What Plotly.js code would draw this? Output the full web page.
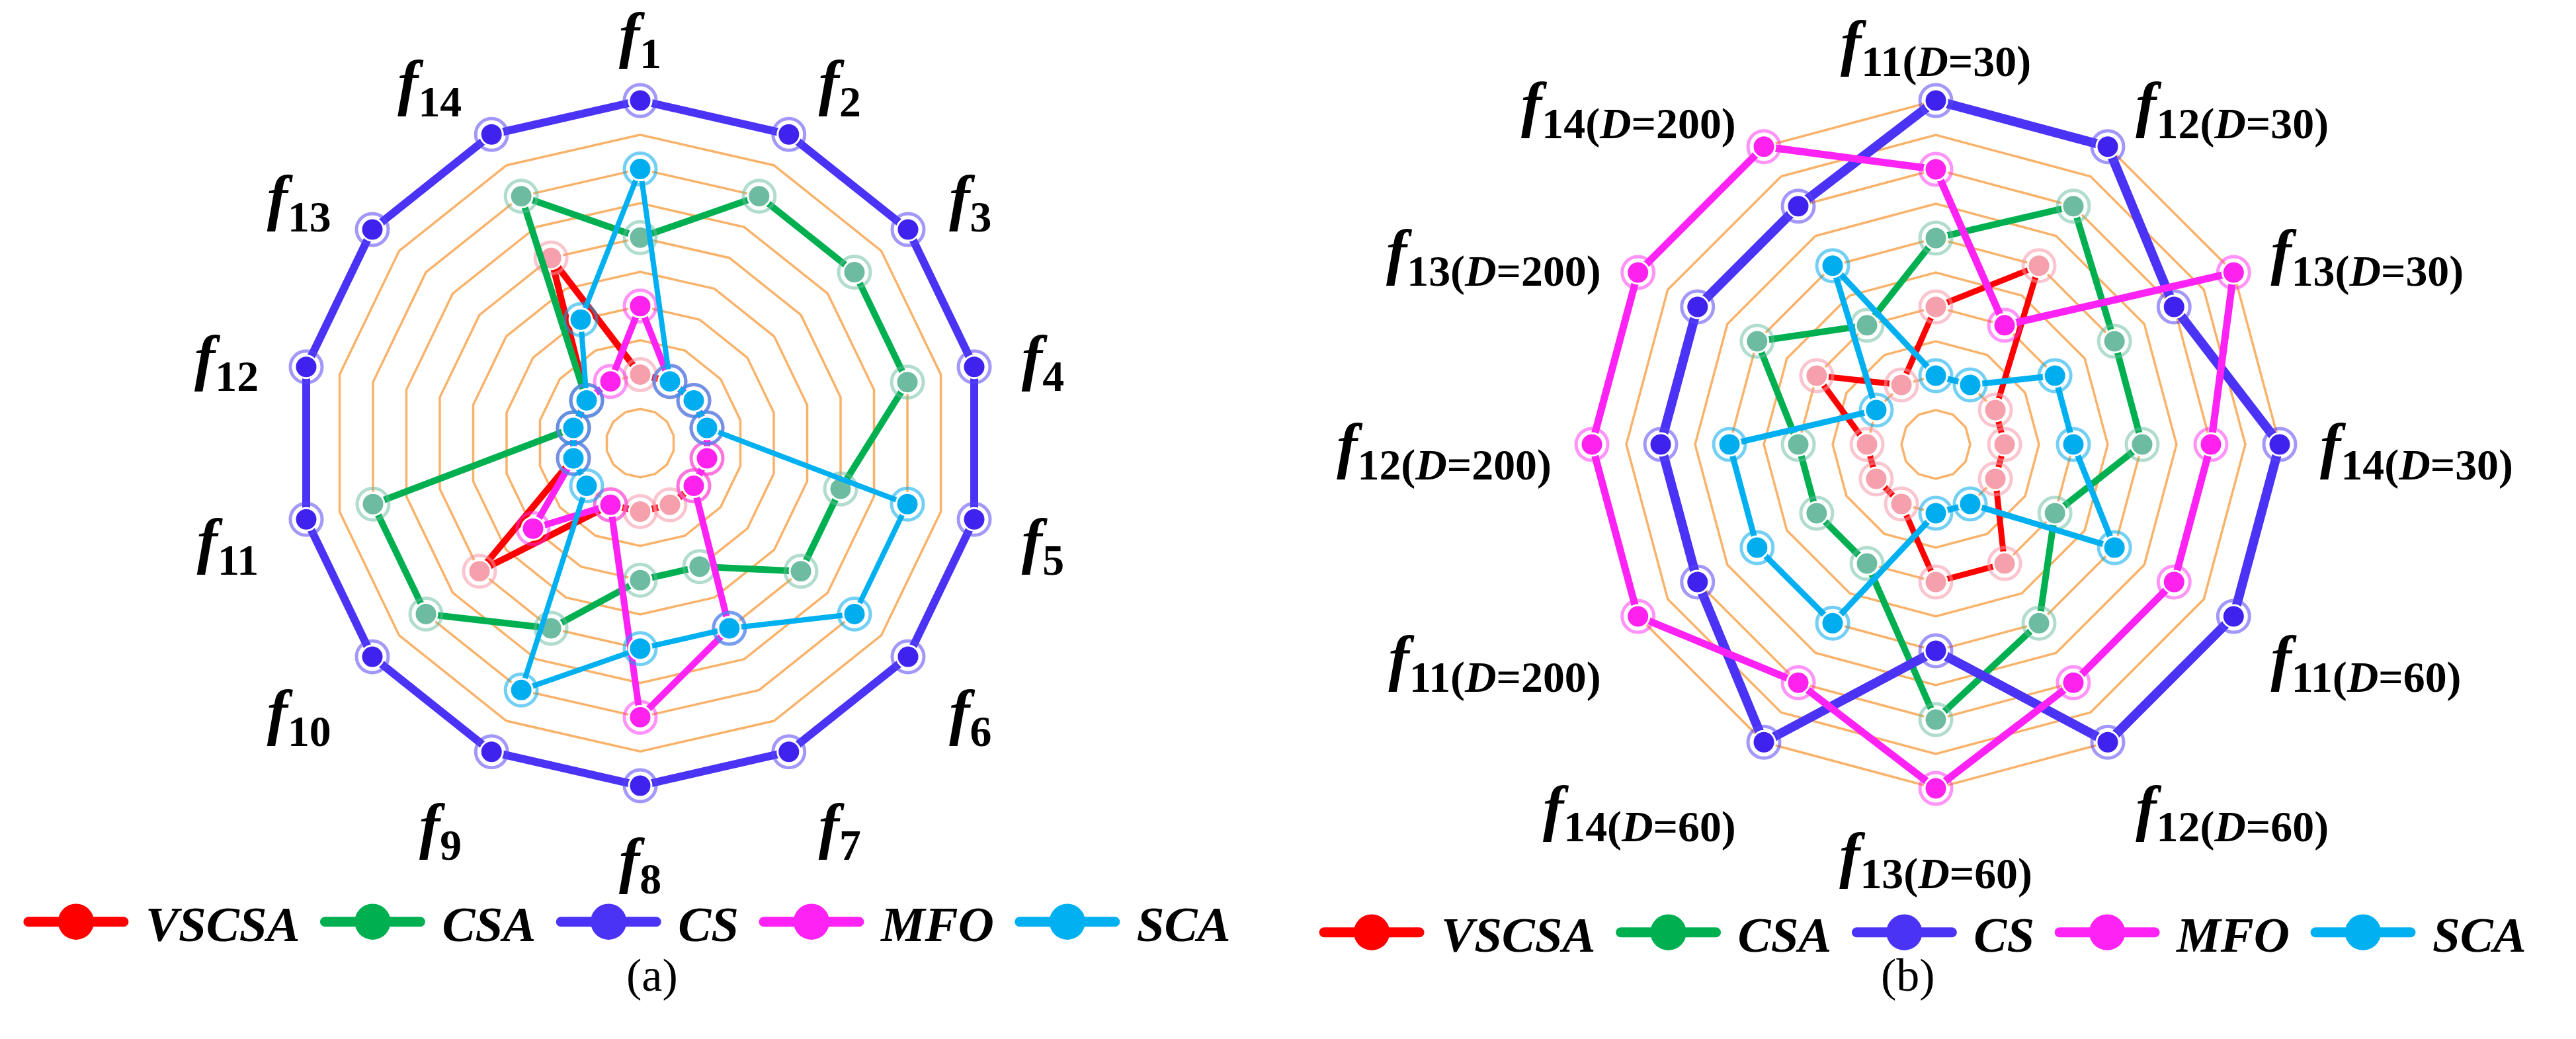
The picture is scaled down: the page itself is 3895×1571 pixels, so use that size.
<!DOCTYPE html>
<html>
<head>
<meta charset="utf-8">
<script src="https://cdn.plot.ly/plotly-3.0.1.min.js"></script>
<style>html,body{margin:0;padding:0;background:#fff;}</style>
</head>
<body>
<div id="chart" style="width:3895px;height:1571px;"></div>
<script>
// ---------- data: panel (a) ----------
const categoriesA = ['f1','f2','f3','f4','f5','f6','f7','f8','f9','f10','f11','f12','f13','f14'];
const tickLabelsA = ['1','2','3','4','5','6','7','8','9','10','11','12','13','14'];
const vscsaA = [1,1,1,1,1,1,1,1,1,3,1,1,1,3];
const csaA   = [3,4,4,4,3,3,2,2,3,4,4,1,1,4];
const csA    = [5,5,5,5,5,5,5,5,5,5,5,5,5,5];
const mfoA   = [2,1,1,1,1,1,3,4,1,2,1,1,1,1];
const scaA   = [4,1,1,1,4,4,3,3,4,1,1,1,1,2];

// ---------- data: panel (b) ----------
const categoriesB = ['f11(D=30)','f12(D=30)','f13(D=30)','f14(D=30)','f11(D=60)','f12(D=60)',
                     'f13(D=60)','f14(D=60)','f11(D=200)','f12(D=200)','f13(D=200)','f14(D=200)'];
const tickFuncB = ['11','12','13','14','11','12','13','14','11','12','13','14'];
const tickDimB  = ['30','30','30','30','60','60','60','60','200','200','200','200'];
const vscsaB = [2,3,1,1,1,2,2,1,1,1,2,1];
const csaB   = [3,4,3,3,2,3,4,2,2,2,3,2];
const csB    = [5,5,4,5,5,5,3,5,4,4,4,4];
const mfoB   = [4,2,5,4,4,4,5,4,5,5,5,5];
const scaB   = [1,1,2,2,3,1,1,3,3,3,1,3];

const seriesNames = ['VSCSA','CSA','CS','MFO','SCA'];
const caption = ['(a)','(b)'];
const radialMax = 5.08;   // a little head-room so lines on the outer ring are not clipped

// ---------- styles ----------
const styles = {
  VSCSA:{line:'#FF0000', dot:'#F5A0AC', ring:'rgba(245,150,165,0.55)', wA:10, wB:9},
  CSA:  {line:'#00B050', dot:'#6DBCA2', ring:'rgba(100,185,158,0.5)',  wA:10, wB:10},
  CS:   {line:'#4A33F5', dot:'#3F22EE', ring:'rgba(85,65,245,0.55)',   wA:12, wB:14},
  MFO:  {line:'#FF22F5', dot:'#FF22EE', ring:'rgba(255,40,240,0.5)',   wA:10, wB:11},
  SCA:  {line:'#00B0F0', dot:'#00AEEF', ring:'rgba(0,170,235,0.55)',   wA:8,  wB:9}
};
const gridOrange = '#F9B26A';
const serif = 'Liberation Serif, Times New Roman, serif';
const NBSP = '\u00A0';

// side labels get a little extra air away from the outer ring
function pad(label, i, n){
  const c = Math.cos((90 - i * 360 / n) * Math.PI / 180);
  if (c > 0.1) return NBSP + label;
  if (c < -0.1) return label + NBSP;
  return label;
}
const ticktextA = tickLabelsA.map((n,i) => pad('<b><i>f</i><sub>' + n + '</sub></b>', i, tickLabelsA.length));
const ticktextB = tickFuncB.map((n,i) => pad('<b><i>f</i><sub>' + n + '(<i>D</i>=' + tickDimB[i] + ')</sub></b>', i, tickFuncB.length));

function close(arr){ return arr.concat([arr[0]]); }

function makeTraces(cats, valuesList, subplot, legendId, widthKey){
  const out = [];
  seriesNames.forEach((name, i) => {
    const st = styles[name];
    out.push({
      type:'scatterpolar', subplot:subplot, legend:legendId,
      name:'<b><i>' + name + '</i></b>', legendgroup:subplot+name,
      r:close(valuesList[i]), theta:close(cats), mode:'lines+markers',
      line:{color:st.line, width:st[widthKey]},
      marker:{size:34, color:st.dot, line:{color:'white', width:3}},
      hoverinfo:'skip'
    });
    out.push({
      type:'scatterpolar', subplot:subplot, legend:legendId,
      name:name, legendgroup:subplot+name, showlegend:false,
      r:valuesList[i], theta:cats, mode:'markers',
      marker:{symbol:'circle-open', size:48, color:st.ring, line:{width:5}},
      hoverinfo:'skip'
    });
  });
  return out;
}

const data = []
  .concat(makeTraces(categoriesA, [vscsaA, csaA, csA, mfoA, scaA], 'polar', 'legend', 'wA'))
  .concat(makeTraces(categoriesB, [vscsaB, csaB, csB, mfoB, scaB], 'polar2', 'legend2', 'wB'));

function polarLayout(domain, cats, ticktext, fsize, tlen){
  return {
    domain:domain, gridshape:'linear', bgcolor:'white',
    radialaxis:{range:[0,radialMax], tick0:0, dtick:0.5, showticklabels:false, ticks:'',
                showline:false, gridcolor:gridOrange, gridwidth:3.5, layer:'below traces'},
    angularaxis:{type:'category', categoryorder:'array', categoryarray:cats,
                 direction:'clockwise', rotation:90, showgrid:false, layer:'below traces',
                 showline:false,
                 ticks:'outside', ticklen:tlen, tickcolor:'rgba(0,0,0,0)',
                 tickmode:'array', tickvals:cats, ticktext:ticktext,
                 tickfont:{family:serif, size:fsize, color:'black'}}
  };
}

const layout = {
  width:3895, height:1571,
  margin:{l:0, r:0, t:0, b:0},
  paper_bgcolor:'white',
  font:{family:serif, color:'black'},
  polar: polarLayout({x:[0.11340,0.38365], y:[0.23851,0.90853]}, categoriesA, ticktextA, 94, 22),
  polar2: polarLayout({x:[0.61584,0.88712], y:[0.23597,0.90853]}, categoriesB, ticktextB, 94, 10),
  legend:{orientation:'h', x:0.2408, xanchor:'center', y:0.1127, yanchor:'middle',
          font:{family:serif, size:75, color:'black'}, itemwidth:200, bgcolor:'rgba(0,0,0,0)'},
  legend2:{orientation:'h', x:0.7438, xanchor:'center', y:0.1025, yanchor:'middle',
          font:{family:serif, size:75, color:'black'}, itemwidth:200, bgcolor:'rgba(0,0,0,0)'},
  annotations:[
    {text:caption[0], xref:'paper', yref:'paper', x:0.2426, y:0.0356, showarrow:false,
     font:{family:serif, size:70, color:'black'}},
    {text:caption[1], xref:'paper', yref:'paper', x:0.7517, y:0.0356, showarrow:false,
     font:{family:serif, size:70, color:'black'}}
  ]
};

Plotly.newPlot('chart', data, layout, {staticPlot:true}).then(gd => {
  // enlarge the legend keys (long line + big dot), like the reference key
  gd.querySelectorAll('g.traces').forEach(tr => {
    const pt = tr.querySelector('g.legendpoints path.scatterpts');
    const ln = tr.querySelector('g.legendlines path');
    if (!pt) return;
    const t = pt.getAttribute('transform') || '';
    const m = /translate\(\s*([-\d.]+)[\s,]+([-\d.]+)\s*\)/.exec(t);
    const cx = m ? +m[1] : 20, cy = m ? +m[2] : 0;
    pt.setAttribute('transform', 'translate(' + cx + ',' + cy + ') scale(3.4)');
    pt.style.strokeWidth = '0px';
    if (ln) {
      pt.style.fill = ln.style.stroke;
      ln.setAttribute('d', 'M' + (cx - 72) + ',' + cy + 'h144');
      ln.style.strokeWidth = '15px';
      ln.style.strokeLinecap = 'round';
    }
  });
});
</script>
</body>
</html>
